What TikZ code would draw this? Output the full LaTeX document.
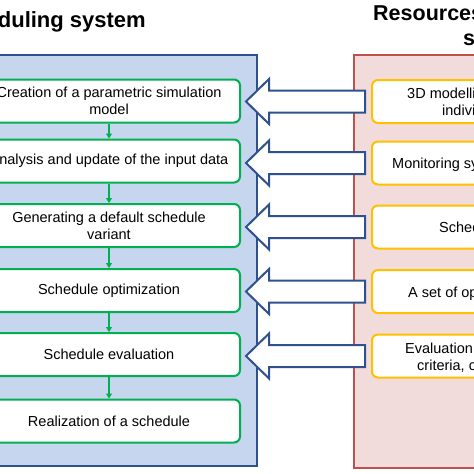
\documentclass[tikz,border=0pt]{standalone}
\usepackage{fontspec}
\setmainfont{Liberation Sans}
\usetikzlibrary{arrows.meta,calc}
\definecolor{panelblue}{RGB}{198,214,239}
\definecolor{panelblueborder}{RGB}{47,82,143}
\definecolor{panelred}{RGB}{242,220,219}
\definecolor{panelredborder}{RGB}{192,80,77}
\definecolor{boxgreen}{RGB}{0,176,80}
\definecolor{boxyellow}{RGB}{255,192,0}
\definecolor{arrowblue}{RGB}{47,82,143}
\begin{document}
\begin{tikzpicture}[x=1pt,y=-1pt,
  bluepanel/.style={draw=panelblueborder,line width=2pt,fill=panelblue,inner sep=0pt},
  redpanel/.style={draw=panelredborder,line width=1.5pt,fill=panelred,inner sep=0pt},
  stepbox/.style={draw=boxgreen,line width=2pt,fill=white,rounded corners=6pt,
    minimum width=262pt,minimum height=43pt,inner sep=0pt,align=center,
    font=\fontsize{14.5}{17}\selectfont},
  resbox/.style={draw=boxyellow,line width=2pt,fill=white,rounded corners=6pt,
    minimum width=200pt,minimum height=43pt,inner sep=0pt},
  restext/.style={anchor=base west,inner sep=0pt,font=\fontsize{14.5}{17}\selectfont},
  titletext/.style={inner sep=0pt,font=\fontsize{22}{26}\selectfont\bfseries},
  flow/.style={draw=boxgreen,line width=1.6pt,-{Triangle[width=6pt,length=5pt]}},
  fat/.style={draw=arrowblue,line width=2pt,fill=white,line join=miter}]
\useasboundingbox (0,0) rectangle (474,474);
\clip (0,0) rectangle (474,474);
\fill[white] (0,0) rectangle (474,474);

% titles
\node[titletext,anchor=base east] (tleft) at (146,27) {Scheduling system};
\node[titletext,anchor=base west,font=\fontsize{21.5}{26}\selectfont\bfseries] (tright1) at (373,20) {Resources of the scheduling};
\node[titletext,anchor=base west,font=\fontsize{21.5}{26}\selectfont\bfseries] (tright2) at (463,45) {system};

% panels
\node[bluepanel,minimum width=296pt,minimum height=411pt] (bp) at (109,260.5) {};
\node[redpanel,minimum width=246pt,minimum height=413pt] (rp) at (477,261.5) {};

% scheduling steps
\node[stepbox] (g1) at (109,101) {Creation of a parametric simulation\\model};
\node[stepbox] (g2) at (109,161) {Analysis and update of the input data};
\node[stepbox] (g3) at (109,225.5) {Generating a default schedule\\variant};
\node[stepbox] (g4) at (109,290.5) {Schedule optimization};
\node[stepbox] (g5) at (109,354.5) {Schedule evaluation};
\node[stepbox] (g6) at (109,421) {Realization of a schedule};

\draw[flow] (g1) -- (g2);
\draw[flow] (g2) -- (g3);
\draw[flow] (g3) -- (g4);
\draw[flow] (g4) -- (g5);
\draw[flow] (g5) -- (g6);

% resource boxes
\node[resbox] (y1) at (472,101.5) {};
\node[resbox] (y2) at (472,163) {};
\node[resbox] (y3) at (472,227) {};
\node[resbox] (y4) at (472,291.5) {};
\node[resbox] (y5) at (472,356) {};

\node[restext] (t1a) at (407,98) {3D modelling of production};
\node[restext] (t1b) at (442,115) {individual elements};
\node[restext] (t2) at (392,168) {Monitoring system};
\node[restext] (t3) at (439,232) {Schedules};
\node[restext] (t4) at (408,297) {A set of optimization};
\node[restext] (t5a) at (405,353) {Evaluation of the};
\node[restext] (t5b) at (417,370) {criteria, constraints};

% fat arrows
\foreach \ga/\ya in {g1/y1,g2/y2,g3/y3,g4/y4,g5/y5}{
  \draw[fat] let \p1=(\ga.east), \p2=(\ya.west) in
    (\x2-6pt,\y2+11pt) -- (\x1+28pt,\y2+11pt) -- (\x1+28pt,\y2+22.5pt)
    -- (\x1+5pt,\y2) -- (\x1+28pt,\y2-22.5pt) -- (\x1+28pt,\y2-11pt)
    -- (\x2-6pt,\y2-11pt) -- cycle;
}
\end{tikzpicture}
\end{document}
